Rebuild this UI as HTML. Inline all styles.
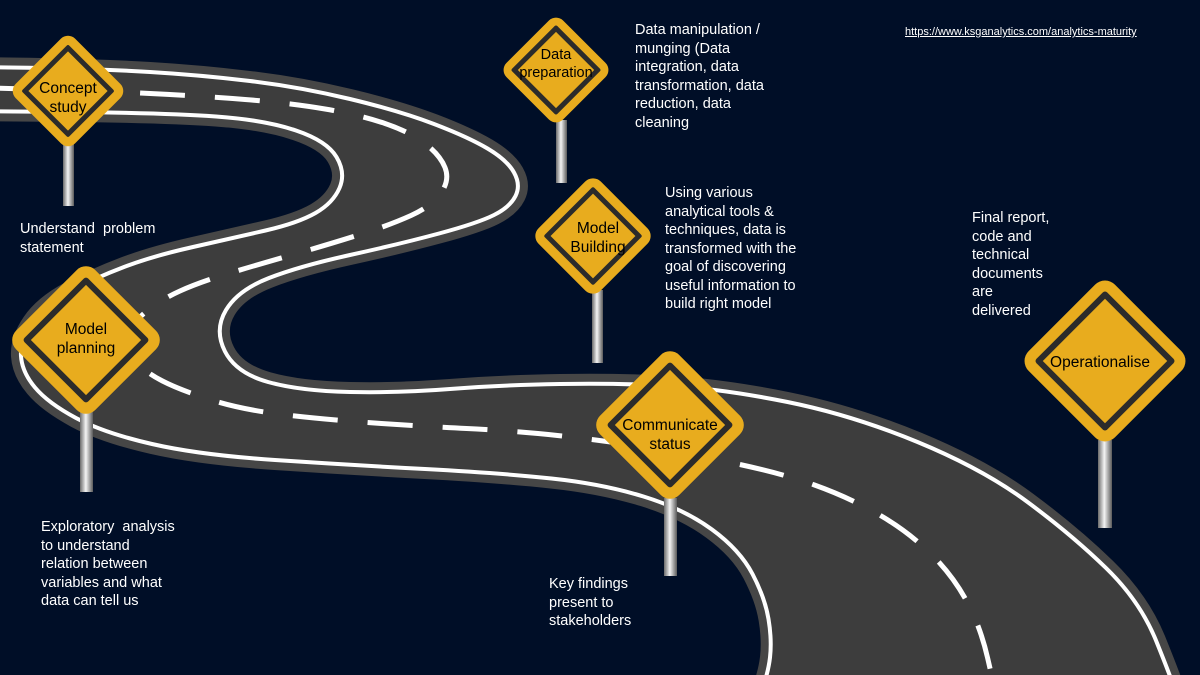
<!DOCTYPE html>
<html><head><meta charset="utf-8"><style>
html,body{margin:0;padding:0;background:#000e27;width:1200px;height:675px;overflow:hidden;}
#c{position:relative;width:1200px;height:675px;overflow:hidden;background:#000e27;font-family:"Liberation Sans",sans-serif;}
svg{position:absolute;left:0;top:0;}
.t{position:absolute;color:#fff;font-size:14.5px;line-height:18.5px;white-space:nowrap;}
.u{position:absolute;left:905px;top:26px;color:#fff;font-size:11px;text-decoration:underline;}
</style></head><body><div id="c">
<svg width="1200" height="675" viewBox="0 0 1200 675" overflow="hidden">
<defs>
<linearGradient id="pole" x1="0" x2="1" y1="0" y2="0">
<stop offset="0" stop-color="#6a6a6a"/><stop offset="0.45" stop-color="#f4f4f4"/><stop offset="1" stop-color="#5a5a5a"/>
</linearGradient>
</defs>
<polygon class="sm" fill="#464646" stroke="#464646" stroke-width="20" stroke-linejoin="round" points="-60,67 -20,67 100,69 200,75 300,87 400,111 468,137 507,160 521,185 510,207 478,223 400,244 300,266 238,290 214,330 236,373 300,391 400,393 500,385 620,383 723,389 852,415 983,469 1072,535 1140,601 1172,680 1185,720 1195,790 735,790 750,720 768,675 772,640 765,598 740,550 684,509 603,484 500,473 350,465 200,455 104,433 48,403 22,372 20,340 44,305 95,278 153,256 233,238 298,223 333,203 346,173 327,141 265,120 167,113 -20,111 -60,111"/>
<polygon class="sm" fill="#3d3d3d" stroke="#ffffff" stroke-width="4" stroke-linejoin="round" points="-60,67 -20,67 100,69 200,75 300,87 400,111 468,137 507,160 521,185 510,207 478,223 400,244 300,266 238,290 214,330 236,373 300,391 400,393 500,385 620,383 723,389 852,415 983,469 1072,535 1140,601 1172,680 1185,720 1195,790 735,790 750,720 768,675 772,640 765,598 740,550 684,509 603,484 500,473 350,465 200,455 104,433 48,403 22,372 20,340 44,305 95,278 153,256 233,238 298,223 333,203 346,173 327,141 265,120 167,113 -20,111 -60,111"/>
<polyline class="sm" fill="none" stroke="#fff" stroke-width="5" stroke-dasharray="45 30" points="-10,88 100,91 200,96 290,103 360,115 410,132 440,155 450,180 432,206 390,225 330,244 260,264 200,282 160,300 130,325 125,350 145,372 180,390 243,410 330,420 433,427 500,430 576,437 680,452 781,473 848,497 906,530 951,573 980,625 995,690"/>

<rect x="63" y="140" width="11" height="66" fill="url(#pole)"/>
<rect x="556" y="120" width="11" height="63" fill="url(#pole)"/>
<rect x="592" y="290" width="11" height="73" fill="url(#pole)"/>
<rect x="80" y="410" width="13" height="82" fill="url(#pole)"/>
<rect x="664" y="498" width="13" height="78" fill="url(#pole)"/>
<rect x="1098" y="440" width="14" height="88" fill="url(#pole)"/>

<g transform="translate(68,91) rotate(45)">
<rect x="-42" y="-42" width="84" height="84" rx="10" fill="#e8ac1e"/>
<rect x="-33" y="-33" width="66" height="66" rx="2" fill="#2b2b2b"/>
<rect x="-28" y="-28" width="56" height="56" fill="#e8ac1e"/></g>
<g transform="translate(556,70) rotate(45)">
<rect x="-40" y="-40" width="80" height="80" rx="10" fill="#e8ac1e"/>
<rect x="-32" y="-32" width="64" height="64" rx="2" fill="#2b2b2b"/>
<rect x="-27" y="-27" width="54" height="54" fill="#e8ac1e"/></g>
<g transform="translate(593,236) rotate(45)">
<rect x="-44" y="-44" width="88" height="88" rx="11" fill="#e8ac1e"/>
<rect x="-35" y="-35" width="70" height="70" rx="2" fill="#2b2b2b"/>
<rect x="-30" y="-30" width="60" height="60" fill="#e8ac1e"/></g>
<g transform="translate(86,340) rotate(45)">
<rect x="-56" y="-56" width="112" height="112" rx="13" fill="#e8ac1e"/>
<rect x="-45" y="-45" width="90" height="90" rx="3" fill="#2b2b2b"/>
<rect x="-39" y="-39" width="78" height="78" fill="#e8ac1e"/></g>
<g transform="translate(670,425) rotate(45)">
<rect x="-56" y="-56" width="112" height="112" rx="13" fill="#e8ac1e"/>
<rect x="-45" y="-45" width="90" height="90" rx="3" fill="#2b2b2b"/>
<rect x="-39" y="-39" width="78" height="78" fill="#e8ac1e"/></g>
<g transform="translate(1105,361) rotate(45)">
<rect x="-61" y="-61" width="122" height="122" rx="14" fill="#e8ac1e"/>
<rect x="-50" y="-50" width="100" height="100" rx="3" fill="#2b2b2b"/>
<rect x="-44" y="-44" width="88" height="88" fill="#e8ac1e"/></g>

<g font-family="Liberation Sans, sans-serif" font-size="15.5" fill="#000" text-anchor="middle">
<text x="68" y="93">Concept</text><text x="68" y="112">study</text>
<text x="556" y="59" font-size="14.5">Data</text><text x="556" y="77" font-size="14.5">preparation</text>
<text x="598" y="233">Model</text><text x="598" y="252">Building</text>
<text x="86" y="334">Model</text><text x="86" y="353">planning</text>
<text x="670" y="430">Communicate</text><text x="670" y="449">status</text>
<text x="1100" y="367">Operationalise</text>
</g>
</svg>

<div class="u">https://www.ksganalytics.com/analytics-maturity</div>
<div class="t" style="left:20px;top:220px;">Understand&nbsp; problem<br>statement</div>
<div class="t" style="left:635px;top:21px;">Data manipulation /<br>munging (Data<br>integration, data<br>transformation, data<br>reduction, data<br>cleaning</div>
<div class="t" style="left:665px;top:184px;">Using various<br>analytical tools &amp;<br>techniques, data is<br>transformed with the<br>goal of discovering<br>useful information to<br>build right model</div>
<div class="t" style="left:972px;top:209px;">Final report,<br>code and<br>technical<br>documents<br>are<br>delivered</div>
<div class="t" style="left:41px;top:518px;">Exploratory&nbsp; analysis<br>to understand<br>relation between<br>variables and what<br>data can tell us</div>
<div class="t" style="left:549px;top:575px;">Key findings<br>present to<br>stakeholders</div>
</div>
<script>
(function(){
var NS="http://www.w3.org/2000/svg";
document.querySelectorAll(".sm").forEach(function(el){
  var pts=el.getAttribute("points").trim().split(/\s+/).map(function(s){var a=s.split(",");return [+a[0],+a[1]];});
  var closed=el.tagName.toLowerCase()==="polygon";
  var n=pts.length,d;
  function mid(a,b){return [(a[0]+b[0])/2,(a[1]+b[1])/2];}
  if(closed){
    var m0=mid(pts[n-1],pts[0]);
    d="M"+m0[0]+","+m0[1];
    for(var i=0;i<n;i++){var p=pts[i],m=mid(p,pts[(i+1)%n]);d+=" Q"+p[0]+","+p[1]+" "+m[0]+","+m[1];}
    d+="Z";
  } else {
    d="M"+pts[0][0]+","+pts[0][1];
    for(var i=1;i<n-1;i++){var p=pts[i],m=mid(p,pts[i+1]);d+=" Q"+p[0]+","+p[1]+" "+m[0]+","+m[1];}
    d+=" L"+pts[n-1][0]+","+pts[n-1][1];
  }
  var path=document.createElementNS(NS,"path");
  for(var k=0;k<el.attributes.length;k++){var at=el.attributes[k];if(at.name!=="points"&&at.name!=="class")path.setAttribute(at.name,at.value);}
  path.setAttribute("d",d);
  el.parentNode.replaceChild(path,el);
});
})();
</script>
</body></html>
